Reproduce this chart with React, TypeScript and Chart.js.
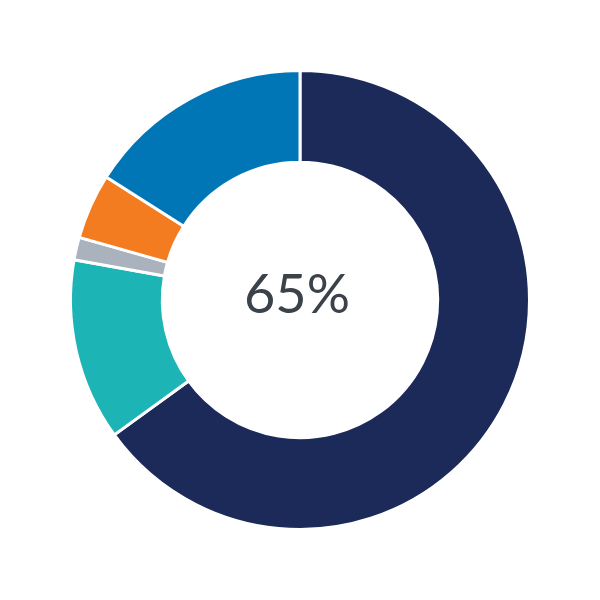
import React, { useEffect, useRef } from "react";
import { Chart, registerables } from "chart.js";

Chart.register(...registerables);

const labels = ["Navy", "Teal", "Gray", "Orange", "Blue"];
const values = [65, 12.8, 1.6, 4.6, 16];
const colors = ["#1b2a59", "#1db4b6", "#aab2be", "#f47c20", "#0076b6"];
const centerText = "65%";

const centerPlugin = {
  id: "centerText",
  afterDraw(chart: any) {
    const { ctx, chartArea } = chart;
    const cx = (chartArea.left + chartArea.right) / 2;
    const cy = (chartArea.top + chartArea.bottom) / 2;
    ctx.save();
    ctx.font = "400 54px Lato";
    ctx.fillStyle = "#3b4249";
    ctx.textAlign = "center";
    ctx.textBaseline = "alphabetic";
    ctx.fillText(centerText, cx - 3, cy + 13);
    ctx.restore();
  },
};

export default function App() {
  const ref = useRef<HTMLCanvasElement>(null);
  useEffect(() => {
    const chart = new Chart(ref.current!, {
      type: "doughnut",
      data: {
        labels,
        datasets: [
          {
            data: values,
            backgroundColor: colors,
            borderColor: "#ffffff",
            borderWidth: 3,
          },
        ],
      },
      options: {
        animation: false,
        responsive: true,
        maintainAspectRatio: false,
        cutout: "60%",
        layout: { padding: 61 },
        plugins: { legend: { display: false }, tooltip: { enabled: false } },
      },
      plugins: [centerPlugin],
    });
    return () => chart.destroy();
  }, []);
  return (
    <div style={{ width: 584, height: 584, position: "relative" }}>
      <canvas ref={ref} />
    </div>
  );
}
